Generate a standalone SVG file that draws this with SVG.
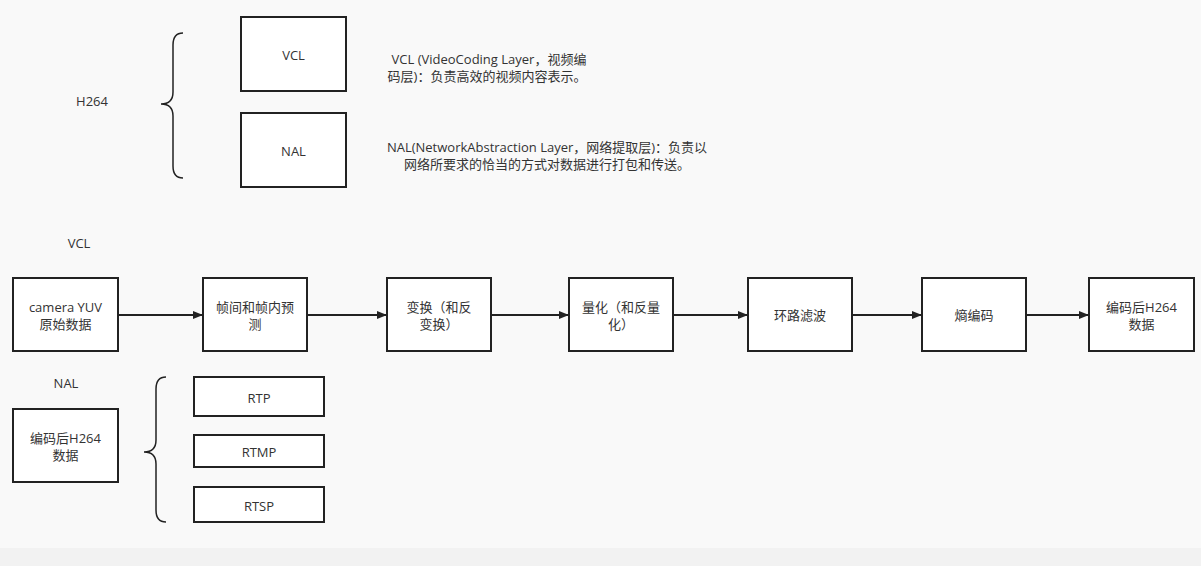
<svg xmlns="http://www.w3.org/2000/svg" width="1201" height="566" viewBox="0 0 1201 566">
<defs>
<style>
.b{fill:#fff;stroke:#222;stroke-width:2}
.t{font-family:"Open Sans","Noto Sans CJK SC",sans-serif;font-size:13px;fill:#333;text-anchor:middle}
.c{fill:none;stroke:#222;stroke-width:2}
.br{fill:none;stroke:#222;stroke-width:1.5}
</style>
<marker id="a" markerWidth="10" markerHeight="8" refX="9" refY="4" orient="auto" markerUnits="userSpaceOnUse"><path d="M0,0L10,4L0,8Z" fill="#222"/></marker>
</defs>
<rect width="1201" height="566" fill="#f9f9f9"/>
<rect y="548" width="1201" height="18" fill="#f2f2f2"/>
<g id="label-h264"><text class="t" x="92" y="106">H264</text></g>
<path class="br" d="M183,33 Q173,33 173,45 L173,92 Q173,104 161,104 Q173,104 173,116 L173,166 Q173,178 183,178"/>
<g id="vcl"><rect class="b" x="241" y="17" width="105" height="74"/><text class="t" x="293.5" y="60">VCL</text></g>
<g id="nal"><rect class="b" x="241" y="113" width="105" height="74"/><text class="t" x="293.5" y="156">NAL</text></g>
<g id="vcl-desc"><text class="t" x="489" y="64">VCL (VideoCoding Layer，视频编</text><text class="t" x="487" y="81">码层)：负责高效的视频内容表示。</text></g>
<g id="nal-desc"><text class="t" x="547" y="152">NAL(NetworkAbstraction Layer，网络提取层)：负责以</text><text class="t" x="547" y="169">网络所要求的恰当的方式对数据进行打包和传送。</text></g>
<g id="label-vcl"><text class="t" x="79" y="248">VCL</text></g>
<g id="n1"><rect class="b" x="13" y="278" width="105" height="73"/><text class="t" x="65.5" y="312">camera YUV</text><text class="t" x="65.5" y="329">原始数据</text></g>
<g id="n2"><rect class="b" x="203" y="278" width="104" height="73"/><text class="t" x="255" y="312">帧间和帧内预</text><text class="t" x="255" y="329">测</text></g>
<g id="n3"><rect class="b" x="387" y="278" width="104" height="73"/><text class="t" x="439" y="312">变换（和反</text><text class="t" x="439" y="329">变换）</text></g>
<g id="n4"><rect class="b" x="569" y="278" width="104" height="73"/><text class="t" x="621" y="312">量化（和反量</text><text class="t" x="621" y="329">化）</text></g>
<g id="n5"><rect class="b" x="748" y="278" width="104" height="73"/><text class="t" x="800" y="320">环路滤波</text></g>
<g id="n6"><rect class="b" x="922" y="278" width="104" height="73"/><text class="t" x="974" y="320">熵编码</text></g>
<g id="n7"><rect class="b" x="1089" y="278" width="105" height="73"/><text class="t" x="1141.5" y="312">编码后H264</text><text class="t" x="1141.5" y="329">数据</text></g>
<g id="connectors">
<path class="c" d="M118,315H202" marker-end="url(#a)"/>
<path class="c" d="M307,315H386" marker-end="url(#a)"/>
<path class="c" d="M491,315H568" marker-end="url(#a)"/>
<path class="c" d="M673,315H747" marker-end="url(#a)"/>
<path class="c" d="M852,315H921" marker-end="url(#a)"/>
<path class="c" d="M1026,315H1088" marker-end="url(#a)"/>
</g>
<g id="label-nal"><text class="t" x="66" y="388">NAL</text></g>
<g id="n8"><rect class="b" x="13" y="409" width="105" height="73"/><text class="t" x="65.5" y="443">编码后H264</text><text class="t" x="65.5" y="460">数据</text></g>
<path class="br" d="M166,377 Q156,377 156,389 L156,440 Q156,452 144,452 Q156,452 156,464 L156,510 Q156,522 166,522"/>
<g id="rtp"><rect class="b" x="194" y="377" width="130" height="39"/><text class="t" x="259" y="403">RTP</text></g>
<g id="rtmp"><rect class="b" x="194" y="435" width="130" height="32"/><text class="t" x="259" y="457">RTMP</text></g>
<g id="rtsp"><rect class="b" x="194" y="487" width="130" height="35"/><text class="t" x="259" y="511">RTSP</text></g>
</svg>
